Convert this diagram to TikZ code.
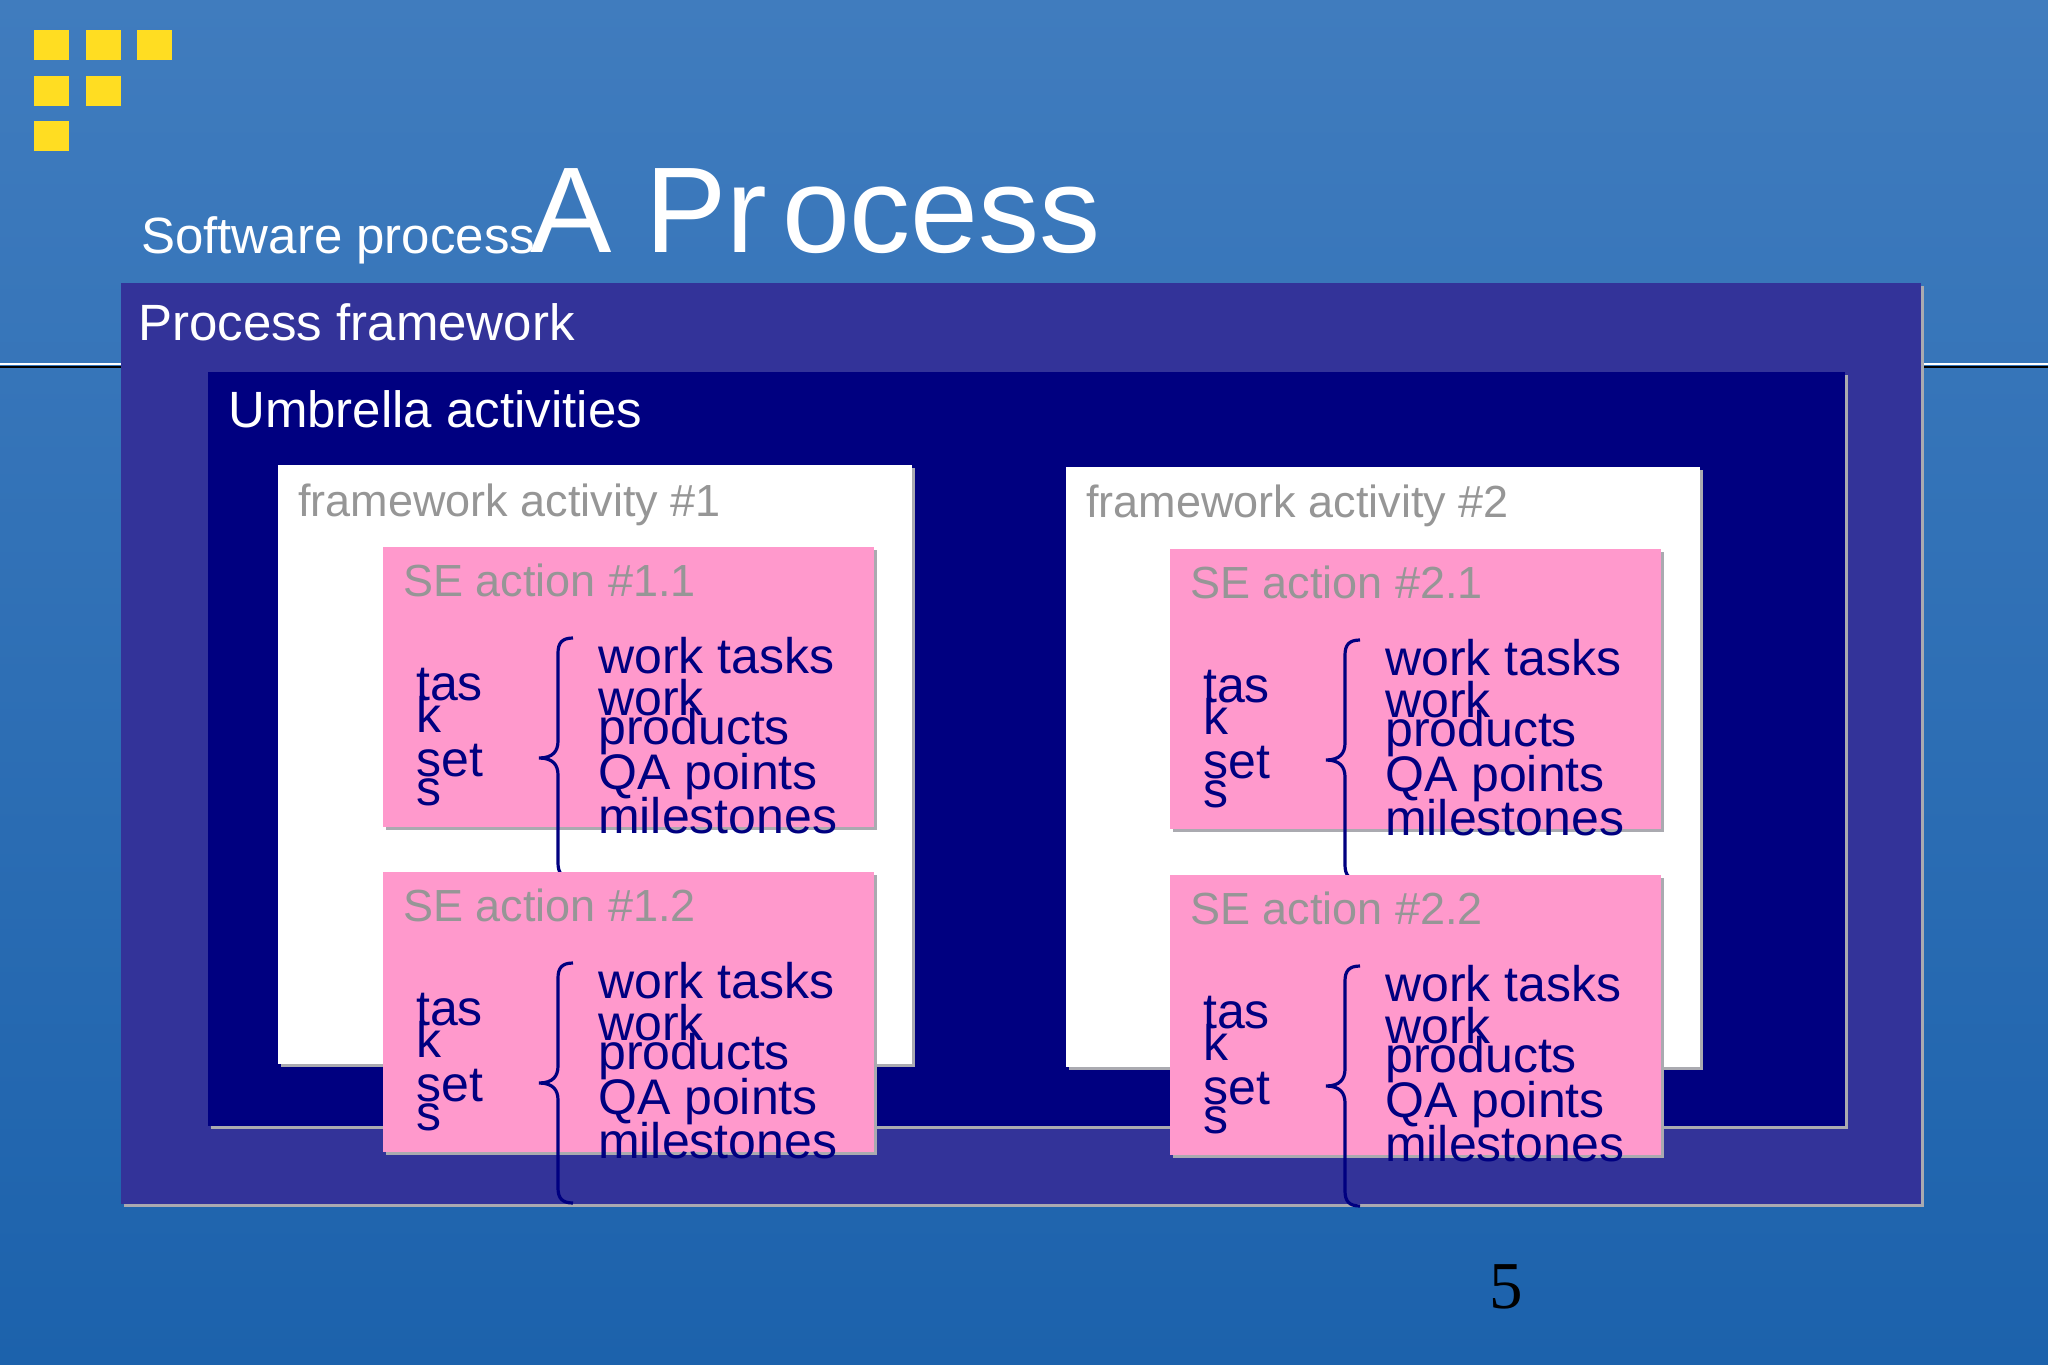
\documentclass[tikz,border=0pt]{standalone}
\usepackage{fontspec}
\setmainfont{Liberation Sans}
\newfontfamily\pagefont{Liberation Serif}
\usetikzlibrary{
		positioning,
		shadows
	}
\definecolor{bgtop}{RGB}{64,124,190}
\definecolor{bgbot}{RGB}{28,98,172}
\definecolor{frameblue}{RGB}{51,51,153}
\definecolor{umbnavy}{RGB}{0,0,128}
\definecolor{actpink}{RGB}{255,153,204}
\definecolor{headgray}{RGB}{150,150,150}
\definecolor{edgegray}{RGB}{170,170,176}
\definecolor{logoyellow}{RGB}{255,221,34}
\newcommand{\fs}[1]{\fontsize{#1}{#1}\selectfont}
\tikzset{
		>=stealth,
		panel/.style={anchor=north west, inner sep=0pt, draw=none,
			drop shadow={shadow xshift=3pt, shadow yshift=-3pt, fill=edgegray, opacity=1}},
		bighead/.style={anchor=base west, inner sep=0pt, white, font=\fs{51}},
		grayhead/.style={anchor=base west, inner sep=0pt, headgray, font=\fs{45}},
		itemtext/.style={anchor=base west, inner sep=0pt, umbnavy, font=\fs{50}},
		actbrace/.style={draw=umbnavy, line width=3.2pt}
	}
\tikzset{pics/seaction/.style={code={
	\node[panel, fill=actpink, minimum width=491pt, minimum height=280pt] (-box) at (0,0) {};
	\node[grayhead] (-head) at (20,49) {SE action \##1};
	\foreach \w/\yy [count=\i] in {tas/153, k/185, set/229, s/258}
		\node[itemtext] (-l\i) at (33,\yy) {\w};
	\foreach \w/\yy [count=\i] in {work tasks/126, work/168, products/197, QA points/242, milestones/286}
		\node[itemtext] (-r\i) at (215,\yy) {\w};
	% the brace, from its top hook to its bottom hook
	\coordinate (-bt) at (190,91);
	\coordinate (-bb) at (190,331);
	\draw[actbrace] (-bt) .. controls (179,91) and (175,96) .. (175,106) -- (175,194)
		.. controls (175,204) and (170,211) .. (156,211)
		.. controls (170,211) and (175,218) .. (175,228) -- (175,316)
		.. controls (175,326) and (179,331) .. (-bb);
}}}

\begin{document}
\begin{tikzpicture}[x=1pt, y=-1pt] % one unit = one pixel of the slide, y runs down
	\useasboundingbox (0,0) rectangle (2048,1365);
	\shade[top color=bgtop, bottom color=bgbot] (0,0) rectangle (2048,1365);
	% logo squares
	\foreach \row/\n in {0/3, 1/2, 2/1}
		\foreach \c in {1,...,\n}
			\fill[logoyellow] ({34+51.5*(\c-1)},{30+45.5*\row}) rectangle ++(35,30);
	\draw[white, line width=2.5pt] (0,364) -- (2048,364);
	\draw[black, line width=2.5pt] (0,367) -- (2048,367);
	\node[bighead] (sub) at (141,253) {Software process};
	\node[anchor=base west, inner sep=0pt, white, font=\fs{122}] (title) at (530,252) {A Pr\hspace{0.12em}ocess};
	% nested boxes
	\node[panel, fill=frameblue, minimum width=1800pt, minimum height=921pt] (frame) at (121,283) {};
	\node[bighead] (framehead) at (138,340) {Process framework};
	\node[panel, fill=umbnavy, minimum width=1637pt, minimum height=754pt] (umb) at (208,372) {};
	\node[bighead] (umbhead) at (228,427) {Umbrella activities};
	\node[panel, fill=white, minimum width=634pt, minimum height=599pt] (fa1) at (278,465) {};
	\node[grayhead] (fa1head) at (298,516) {framework activity \#1};
	\node[panel, fill=white, minimum width=634pt, minimum height=600pt] (fa2) at (1066,467) {};
	\node[grayhead] (fa2head) at (1086,517) {framework activity \#2};
	\pic (a11) at (383,547) {seaction=1.1};
	\pic (a12) at (383,872) {seaction=1.2};
	\pic (a21) at (1170,549) {seaction=2.1};
	\pic (a22) at (1170,875) {seaction=2.2};
	\node[anchor=base west, inner sep=0pt, font=\pagefont\fs{67}] (pagenum) at (1489,1308) {5};
\end{tikzpicture}
\end{document}
